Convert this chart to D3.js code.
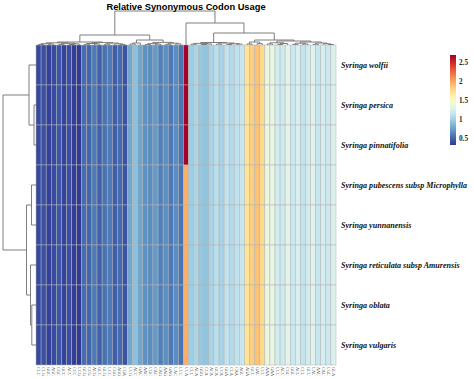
<!DOCTYPE html>
<html><head><meta charset="utf-8">
<script src="https://cdn.jsdelivr.net/npm/d3@7"></script>
<style>html,body{margin:0;padding:0;background:#fff;}</style>
</head><body>
<script>
const title = "Relative Synonymous Codon Usage";
const species = ["Syringa wolfii","Syringa persica","Syringa pinnatifolia","Syringa pubescens subsp Microphylla","Syringa yunnanensis","Syringa reticulata subsp Amurensis","Syringa oblata","Syringa vulgaris"];
const codons = ["CUC","CUG","GGC","AGC","CGC","GCC","ACC","CCC","UCG",
                "GCG","CCG","ACG","GUC","GUG","UCC","CGG","AGG","CGA",
                "UUG","AUC","GAC","AAC","UGC","CAC","CAG","AAG","GAG","UAC","UUC",
                "UUA",
                "CUU","AUA","GGG","CCA","ACA","GCA","UCA","GGA","CUA","CAA","AGU",
                "AGA","GCU","GAU","UCU",
                "AAA","GAA","UUU","AUU","CGU","GGU","ACU","CCU","GUU","UAU","AAU","CAU","UGU","GUA"];
// RSCU values, one array per species, columns in displayed order
const base = [0.41,0.44,0.38,0.42,0.46,0.39,0.43,0.37,0.35,
              0.55,0.52,0.60,0.50,0.57,0.61,0.49,0.54,0.45,
              0.80,0.92,0.79,0.70,0.68,0.73,0.62,0.69,0.60,0.68,0.58,
              2.70,
              1.00,1.05,0.96,0.94,1.04,1.12,1.03,1.16,1.08,1.14,1.18,
              1.72,1.84,1.90,1.78,
              1.38,1.36,1.24,1.21,1.34,1.19,1.27,1.16,1.23,1.31,1.18,1.25,1.20,1.29];
const wolfii       = base.slice();
const persica      = base.slice();
const pinnatifolia = base.slice();
const pubescens    = base.map((v,i)=> i===29 ? 1.98 : v);
const yunnanensis  = base.map((v,i)=> i===29 ? 1.98 : v);
const reticulata   = base.map((v,i)=> i===29 ? 1.98 : v);
const oblata       = base.map((v,i)=> i===29 ? 1.98 : v);
const vulgaris     = base.map((v,i)=> i===29 ? 1.98 : v);
const values = [wolfii,persica,pinnatifolia,pubescens,yunnanensis,reticulata,oblata,vulgaris];
const legendTicks = [0.5,1,1.5,2,2.5];
// dendrograms: [height, left, right]; leaves are indices
const rowTree = [33,[7,0,[2,1,2]],[9.5,[4.5,3,4],[5.5,5,[4.2,6,7]]]];
const colTree = [34,
  [10,
    [3,[2.2,[1.3,[0.6,0,1],[0.9,2,3]],[1.7,[0.7,4,5],[1.1,[0.5,6,7],8]]],
       [2.4,[1.5,[0.7,9,10],[1.0,11,12]],[1.9,[0.8,13,14],[1.2,15,[0.6,16,17]]]]],
    [5,[2.0,[1.0,18,19],20],
       [2.6,[1.4,[0.6,21,22],[0.9,23,24]],[1.8,[0.7,25,26],[1.1,27,28]]]]],
  [22,29,
    [12,[2.5,[1.6,[0.8,30,31],[1.1,[0.5,32,33],34]],[2.0,[0.9,35,36],[1.3,[0.6,37,38],[0.9,39,40]]]],
        [5,[3,[1.0,41,42],[1.4,43,44]],
           [4,[2.2,[1.0,45,46],[1.5,[0.6,47,48],49]],[3.0,[1.8,[0.7,50,51],[1.0,52,53]],[2.0,[0.8,54,55],[1.2,56,[0.5,57,58]]]]]]]]];

const W=474,H=379;
const hx0=36,hx1=336,hy0=45,hy1=365;
const svg=d3.select("body").append("svg").attr("width",W).attr("height",H);
const x=d3.scaleBand().domain(d3.range(codons.length)).range([hx0,hx1]);
const y=d3.scaleBand().domain(d3.range(species.length)).range([hy0,hy1]);
const vmin=0.34,vmax=2.71;
const color=d3.scaleSequential(t=>d3.interpolateRdYlBu(1-t)).domain([vmin,vmax]);

// cells
const cells=[];
values.forEach((row,r)=>row.forEach((v,c)=>cells.push({r,c,v})));
svg.append("g").selectAll("rect").data(cells).join("rect")
  .attr("x",d=>x(d.c)).attr("y",d=>y(d.r))
  .attr("width",x.bandwidth()).attr("height",y.bandwidth())
  .attr("fill",d=>color(d.v)).attr("stroke","#b4b4b4").attr("stroke-width",0.5);

// dendrogram helper
function toH(a){ return Array.isArray(a)?{h:a[0],children:[toH(a[1]),toH(a[2])]}:{h:0,leaf:a}; }
function drawTree(tree,posOf,hScale,horizontal){
  const root=d3.hierarchy(toH(tree));
  root.eachAfter(n=>{ n.p = n.children ? (n.children[0].p+n.children[1].p)/2 : posOf(n.data.leaf); });
  const segs=[];
  root.each(n=>{ if(!n.children) return;
    const hp=hScale(n.data.h);
    const [a,b]=n.children;
    segs.push([a.p,hp,b.p,hp]);
    segs.push([a.p,hScale(a.data.h),a.p,hp]);
    segs.push([b.p,hScale(b.data.h),b.p,hp]);
  });
  svg.append("g").selectAll("line").data(segs).join("line")
    .attr("x1",s=>horizontal?s[1]:s[0]).attr("y1",s=>horizontal?s[0]:s[1])
    .attr("x2",s=>horizontal?s[3]:s[2]).attr("y2",s=>horizontal?s[2]:s[3])
    .attr("stroke","#707070").attr("stroke-width",0.9);
}
drawTree(colTree,i=>x(i)+x.bandwidth()/2,d3.scaleLinear().domain([0,34]).range([hy0,11]),false);
drawTree(rowTree,i=>y(i)+y.bandwidth()/2,d3.scaleLinear().domain([0,33]).range([hx0,3]),true);

// title
svg.append("text").attr("x",186).attr("y",9.5).attr("text-anchor","middle")
  .attr("font-family","Liberation Sans, Arial, sans-serif").attr("font-weight","bold")
  .attr("font-size",9.3).text(title);

// row labels
svg.append("g").selectAll("text").data(species).join("text")
  .attr("x",hx1+5).attr("y",(d,i)=>y(i)+y.bandwidth()/2).attr("dy","0.35em")
  .attr("font-family","Liberation Serif, Times New Roman, serif").attr("font-weight","bold")
  .attr("font-style","italic").attr("font-size",8.1).attr("fill","#111").text(d=>d);

// column labels
svg.append("g").selectAll("text").data(codons).join("text")
  .attr("transform",(d,i)=>`translate(${x(i)+x.bandwidth()/2-1.5},${hy1+2}) rotate(90)`)
  .attr("font-family","Liberation Serif, serif").attr("font-size",4.2).attr("fill","#222").text(d=>d);

// legend
const ly=d3.scaleLinear().domain([vmin,vmax]).range([145,55]);
const defs=svg.append("defs");
const grad=defs.append("linearGradient").attr("id","lg").attr("x1",0).attr("y1",1).attr("x2",0).attr("y2",0);
d3.range(0,1.0001,0.05).forEach(t=>grad.append("stop").attr("offset",t).attr("stop-color",color(vmin+t*(vmax-vmin))));
svg.append("rect").attr("x",450).attr("y",55).attr("width",6).attr("height",90).attr("fill","url(#lg)");
svg.append("g").selectAll("text").data(legendTicks).join("text")
  .attr("x",459).attr("y",d=>ly(d)).attr("dy","0.35em")
  .attr("font-family","Liberation Serif, serif").attr("font-weight","bold").attr("font-size",7.2).attr("fill","#222")
  .text(d=>d);
</script>
</body></html>
